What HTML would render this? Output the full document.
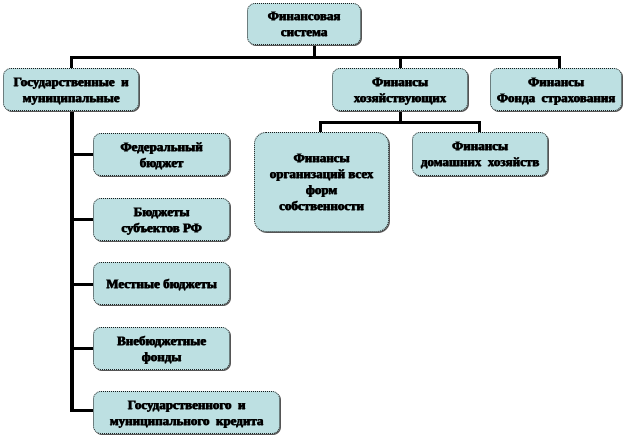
<!DOCTYPE html>
<html><head><meta charset="utf-8"><style>
html,body{margin:0;padding:0;background:#fff;}
body{width:630px;height:438px;position:relative;overflow:hidden;}
.b{position:absolute;box-sizing:border-box;background:#bde0e2;border:1.5px dotted #1a1a1a;border-radius:8px;box-shadow:1px 1px 0 #555;display:flex;align-items:center;justify-content:center;text-align:center;font-family:"Times New Roman","Liberation Serif","DejaVu Serif",serif;font-weight:bold;font-size:13px;line-height:16px;color:#000;text-shadow:0.6px 0 0 #000,-0.3px 0 0 #000,0 0.4px 0 #000;}
.l{position:absolute;background:#000;}
</style></head><body>
<div class="l" style="left:70px;top:56px;width:491px;height:3px"></div>
<div class="l" style="left:313px;top:45px;width:3px;height:12px"></div>
<div class="l" style="left:70px;top:56px;width:3px;height:13px"></div>
<div class="l" style="left:399px;top:56px;width:3px;height:13px"></div>
<div class="l" style="left:558px;top:56px;width:3px;height:13px"></div>
<div class="l" style="left:399px;top:110px;width:3px;height:13px"></div>
<div class="l" style="left:319px;top:121px;width:162px;height:3px"></div>
<div class="l" style="left:319px;top:121px;width:3px;height:12px"></div>
<div class="l" style="left:478px;top:121px;width:3px;height:12px"></div>
<div class="l" style="left:70px;top:110px;width:4px;height:302px"></div>
<div class="l" style="left:70px;top:153px;width:23px;height:3px"></div>
<div class="l" style="left:70px;top:218px;width:23px;height:3px"></div>
<div class="l" style="left:70px;top:283px;width:23px;height:3px"></div>
<div class="l" style="left:70px;top:347px;width:23px;height:3px"></div>
<div class="l" style="left:70px;top:409px;width:23px;height:3px"></div>

<div class="b" style="left:247px;top:3px;width:114px;height:42px">Финансовая<br>система</div>
<div class="b" style="left:3px;top:68px;width:136px;height:43px">Государственные&nbsp; и<br>муниципальные</div>
<div class="b" style="left:332px;top:68px;width:136px;height:43px">Финансы<br>хозяйствующих</div>
<div class="b" style="left:490px;top:68px;width:132px;height:43px">Финансы<br>Фонда&nbsp; страхования</div>
<div class="b" style="left:254px;top:132px;width:135px;height:100px;border-radius:12px">Финансы<br>организаций всех<br>форм<br>собственности</div>
<div class="b" style="left:412px;top:132px;width:136px;height:44px">Финансы<br>домашних&nbsp; хозяйств</div>
<div class="b" style="left:93px;top:133px;width:137px;height:43px">Федеральный<br>бюджет</div>
<div class="b" style="left:93px;top:198px;width:137px;height:43px">Бюджеты<br>субъектов РФ</div>
<div class="b" style="left:93px;top:262px;width:137px;height:43px">Местные бюджеты</div>
<div class="b" style="left:93px;top:327px;width:137px;height:43px">Внебюджетные<br>фонды</div>
<div class="b" style="left:93px;top:391px;width:187px;height:43px">Государственного&nbsp; и<br>муниципального&nbsp; кредита</div>
</body></html>
